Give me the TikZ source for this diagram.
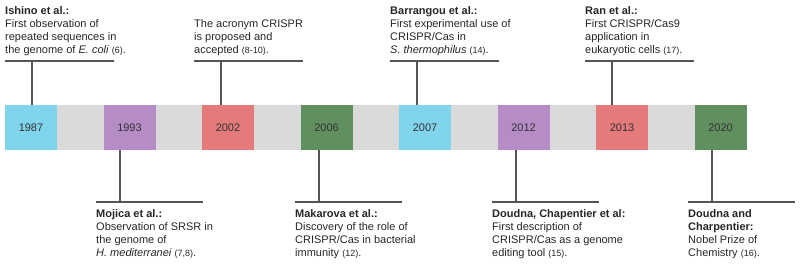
\documentclass[tikz,border=0pt]{standalone}
\usepackage{fontspec}
\setmainfont{Liberation Sans}
\definecolor{cBlue}{RGB}{128,212,236}
\definecolor{cPurple}{RGB}{182,140,198}
\definecolor{cRed}{RGB}{228,122,122}
\definecolor{cGreen}{RGB}{96,144,96}
\definecolor{cBand}{RGB}{218,218,218}
\definecolor{cBar}{RGB}{85,85,85}
\newcommand{\refn}[1]{{\fontsize{9}{11}\selectfont #1}}
\begin{document}
\begin{tikzpicture}[x=1pt, y=1pt,
        yr/.style={minimum width=52pt, minimum height=45pt, inner sep=0pt,
                   font=\fontsize{11}{13}\selectfont, text=black!80},
        note/.style={align=left, inner sep=0pt, font=\fontsize{11}{13}\selectfont, text=black!85},
        bar/.style={draw=cBar, line width=2pt}
    ]
    \useasboundingbox (0,0) rectangle (800,264);
    % time band
    \fill[cBand] (5,114) rectangle (746.5,159);
    % year boxes
    \foreach \i/\yr/\col in {0/1987/cBlue, 1/1993/cPurple, 2/2002/cRed, 3/2006/cGreen,
                            4/2007/cBlue, 5/2012/cPurple, 6/2013/cRed, 7/2020/cGreen}
        \node[yr, fill=\col] (b\yr) at (31+98.5*\i,136.5) {\yr};

    % callouts above the band
    \foreach \x/\yr in {5/1987, 194/2002, 390/2007, 585/2013} {
        \coordinate (h\yr) at (\x,203);
        \coordinate (s\yr) at (\x+26.5,203);
        \draw[bar] (h\yr) -- ++(109,0);
        \draw[bar] (s\yr) -- (s\yr |- b\yr.north);
    }
    % callouts below the band
    \foreach \x/\yr in {96/1993, 295/2006, 492/2012, 688/2020} {
        \coordinate (h\yr) at (\x,62);
        \coordinate (s\yr) at (\x+23.5,62);
        \draw[bar] (h\yr) -- ++(107,0);
        \draw[bar] (s\yr) -- (s\yr |- b\yr.south);
    }

    % texts
    \node[note, anchor=south west] (nIshino) at ([yshift=5pt]h1987)
        {\textbf{Ishino et al.:}\\First observation of\\repeated sequences in\\the genome of \textit{E. coli} \refn{(6)}.};
    \node[note, anchor=south west] (nAcronym) at ([yshift=5pt]h2002)
        {The acronym CRISPR\\is proposed and\\accepted \refn{(8-10)}.};
    \node[note, anchor=south west] (nBarrangou) at ([yshift=5pt]h2007)
        {\textbf{Barrangou et al.:}\\First experimental use of\\CRISPR/Cas in\\\textit{S. thermophilus} \refn{(14)}.};
    \node[note, anchor=south west] (nRan) at ([yshift=5pt]h2013)
        {\textbf{Ran et al.:}\\First CRISPR/Cas9\\application in\\eukaryotic cells \refn{(17)}.};

    \node[note, anchor=north west] (nMojica) at ([yshift=-7pt]h1993)
        {\textbf{Mojica et al.:}\\Observation of SRSR in\\the genome of\\\textit{H. mediterranei} \refn{(7,8)}.};
    \node[note, anchor=north west] (nMakarova) at ([yshift=-7pt]h2006)
        {\textbf{Makarova et al.:}\\Discovery of the role of\\CRISPR/Cas in bacterial\\immunity \refn{(12)}.};
    \node[note, anchor=north west] (nDoudna) at ([yshift=-7pt]h2012)
        {\textbf{Doudna, Chapentier et al:}\\First description of\\CRISPR/Cas as a genome\\editing tool \refn{(15)}.};
    \node[note, anchor=north west] (nNobel) at ([yshift=-7pt]h2020)
        {\textbf{Doudna and}\\\textbf{Charpentier:}\\Nobel Prize of\\Chemistry \refn{(16)}.};
\end{tikzpicture}
\end{document}
